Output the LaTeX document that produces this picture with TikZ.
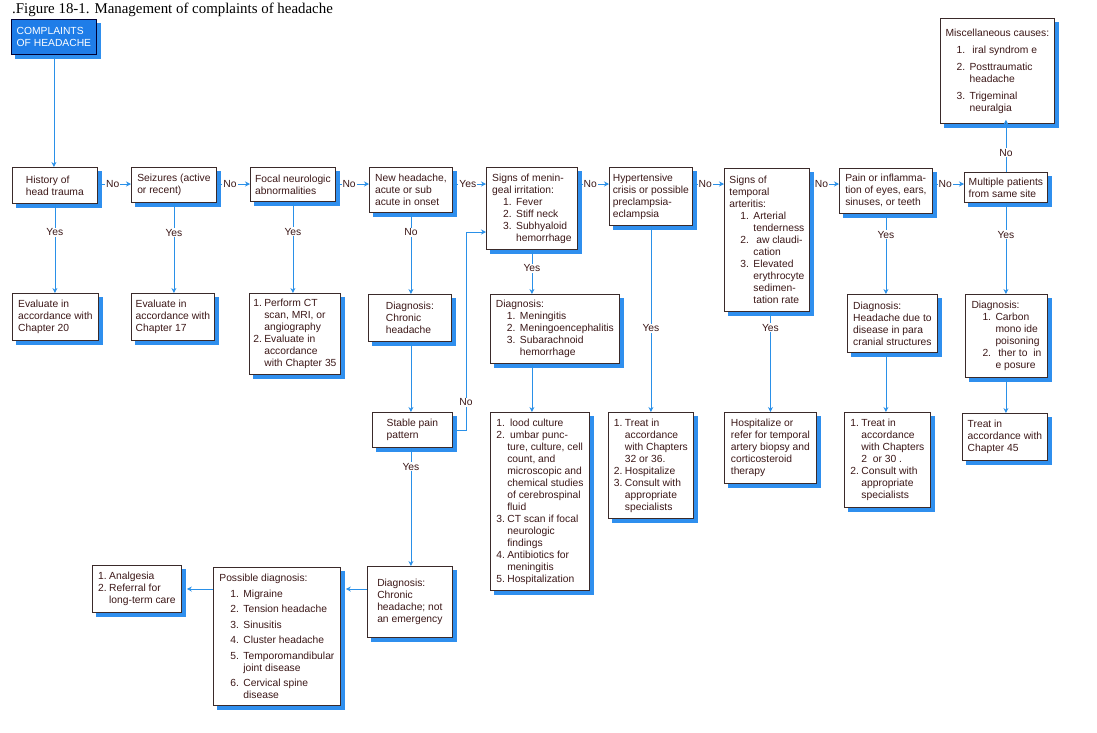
\documentclass[tikz,border=0pt]{standalone}
\usepackage{fontspec}
\setmainfont{Liberation Sans}
\newfontfamily\titlefont{Liberation Serif}
\usetikzlibrary{arrows.meta}
\pgfdeclarelayer{bg}
\pgfsetlayers{bg,main}
\definecolor{lineblue}{HTML}{2A90E8}
\definecolor{shblue}{HTML}{2F8FEE}
\definecolor{boxline}{HTML}{3A2A2A}
\definecolor{txt}{HTML}{3C1818}
\definecolor{compblue}{HTML}{1F7DE8}
\newcommand{\HLi}[1]{\hspace*{11pt}\makebox[13pt][l]{#1}}
\newcommand{\HLc}{\hspace*{24pt}}
\newcommand{\HLn}[1]{\makebox[11pt][l]{#1}}
\newcommand{\HLm}{\hspace*{11pt}}
\tikzset{
  box/.style={draw=boxline, line width=0.8pt, fill=white, text=txt, align=left,
    inner sep=3pt, anchor=north west,
    font=\fontsize{10.3}{12}\selectfont},
  sz/.style 2 args={minimum width=#1pt, minimum height=#2pt},
  arr/.style={draw=lineblue, line width=0.8pt, -{Stealth[length=5pt,width=5pt]}},
  lbl/.style={fill=white, text=txt, inner sep=1pt, font=\fontsize{10.3}{12}\selectfont},
  shadowbox/.style={fill=shblue}
}
\begin{document}
\begin{tikzpicture}[x=1pt,y=-1pt]
\begin{pgfonlayer}{bg}
\fill[white] (0,0) rectangle (1097,732);
\end{pgfonlayer}
\useasboundingbox (0,0) rectangle (1097,732);
\node[anchor=base west, inner sep=0pt, font=\titlefont\fontsize{14.9}{17}\selectfont] (title) at (12,13) {.Figure 18-1. Management of complaints of headache};

% row 1
\node[box, sz={85}{35}, fill=compblue, text=white, draw=black!80!blue] (comp) at (11,19) {COMPLAINTS\\OF HEADACHE};
\node[box, sz={85}{36}] (hist) at (12,167) {History of\\head trauma};
\node[box, sz={85}{35}] (seiz) at (131,167) {Seizures (active\\or recent)};
\node[box, sz={85}{34}] (focal) at (250,167) {Focal neurologic\\abnormalities};
\node[box, sz={83}{45}] (newh) at (369,167) {New headache,\\acute or sub\\acute in onset};
\node[box, sz={91}{82}] (signs) at (486,167) {Signs of menin-\\geal irritation:\\\HLi{1.}Fever\\\HLi{2.}Stiff neck\\\HLi{3.}Subhyaloid\\\HLc hemorrhage};
\node[box, sz={83}{58}] (hyper) at (609,167) {Hypertensive\\crisis or possible\\preclampsia-\\eclampsia};
\node[box, sz={85}{143}] (temp) at (724,168) {Signs of\\temporal\\arteritis:\\\HLi{1.}Arterial\\\HLc tenderness\\\HLi{2.}\ aw claudi-\\\HLc cation\\\HLi{3.}Elevated\\\HLc erythrocyte\\\HLc sedimen-\\\HLc tation rate};
\node[box, sz={93}{45}] (pain) at (839,168) {Pain or inflamma-\\tion of eyes, ears,\\sinuses, or teeth};
\node[box, sz={83}{30}] (mult) at (964,172) {Multiple patients\\from same site};
\node[box, sz={114}{105}] (misc) at (940,18) {Miscellaneous causes:\\[5pt]\HLi{1.}\ iral syndrom e\\[5pt]\HLi{2.}Posttraumatic\\\HLc headache\\[5pt]\HLi{3.}Trigeminal\\\HLc neuralgia};

% row 2
\node[box, sz={86}{47}] (ev20) at (12,293) {Evaluate in\\accordance with\\Chapter 20};
\node[box, sz={83}{47}] (ev17) at (131,293) {Evaluate in\\accordance with\\Chapter 17};
\node[box, sz={91}{81}] (ct) at (249,293) {\HLn{1.}Perform CT\\\HLm scan, MRI, or\\\HLm angiography\\\HLn{2.}Evaluate in\\\HLm accordance\\\HLm with Chapter 35};
\node[box, sz={83}{47}] (dchr) at (368,294) {Diagnosis:\\Chronic\\headache};
\node[box, sz={129}{69}] (dmen) at (490,294) {Diagnosis:\\\HLi{1.}Meningitis\\\HLi{2.}Meningoencephalitis\\\HLi{3.}Subarachnoid\\\HLc hemorrhage};
\node[box, sz={90}{58}] (dhead) at (847,294) {Diagnosis:\\Headache due to\\disease in para\\cranial structures};
\node[box, sz={82}{83}] (dcarb) at (965,294) {Diagnosis:\\\HLi{1.}Carbon\\\HLc mono ide\\\HLc poisoning\\\HLi{2.}\ ther to\ \ in\\\HLc e posure};

% row 3
\node[box, sz={80}{35}] (stab) at (372,412) {Stable pain\\pattern};
\node[box, sz={99}{178}] (blood) at (490,412) {\HLn{1.}\ lood culture\\\HLn{2.}\ umbar punc-\\\HLm ture, culture, cell\\\HLm count, and\\\HLm microscopic and\\\HLm chemical studies\\\HLm of cerebrospinal\\\HLm fluid\\\HLn{3.}CT scan if focal\\\HLm neurologic\\\HLm findings\\\HLn{4.}Antibiotics for\\\HLm meningitis\\\HLn{5.}Hospitalization};
\node[box, sz={85}{106}] (tr36) at (608,412) {\HLn{1.}Treat in\\\HLm accordance\\\HLm with Chapters\\\HLm 32 or 36.\\\HLn{2.}Hospitalize\\\HLn{3.}Consult with\\\HLm appropriate\\\HLm specialists};
\node[box, sz={92}{71}] (hosp) at (724,412) {Hospitalize or\\refer for temporal\\artery biopsy and\\corticosteroid\\therapy};
\node[box, sz={86}{95}] (tr30) at (844,412) {\HLn{1.}Treat in\\\HLm accordance\\\HLm with Chapters\\\HLm 2\ \ or 30 .\\\HLn{2.}Consult with\\\HLm appropriate\\\HLm specialists};
\node[box, sz={85}{47}] (tr45) at (962,413) {Treat in\\accordance with\\Chapter 45};

% row 4
\node[box, sz={85}{71}] (dnot) at (367,566) {Diagnosis:\\Chronic\\headache; not\\an emergency};
\node[box, sz={127}{138}] (poss) at (213,567) {Possible diagnosis:\\[3.5pt]\HLi{1.}Migraine\\[3.5pt]\HLi{2.}Tension headache\\[3.5pt]\HLi{3.}Sinusitis\\[3.5pt]\HLi{4.}Cluster headache\\[3.5pt]\HLi{5.}Temporomandibular\\\HLc joint disease\\[3.5pt]\HLi{6.}Cervical spine\\\HLc disease};
\node[box, sz={89}{47}] (analg) at (92,565) {\HLn{1.}Analgesia\\\HLn{2.}Referral for\\\HLm long-term care};

% shadows
\begin{pgfonlayer}{bg}
\foreach \n in {comp,hist,seiz,focal,newh,signs,hyper,temp,pain,mult,misc,ev20,ev17,ct,dchr,dmen,dhead,dcarb,stab,blood,tr36,hosp,tr30,tr45,dnot,poss,analg}
  \fill[shadowbox] ([shift={(4,4)}]\n.north west) rectangle ([shift={(4,4)}]\n.south east);
\end{pgfonlayer}

% connectors
\coordinate (rowy) at (0,184);
\coordinate (lowy) at (0,589);
\coordinate (bend) at (466,232);
\draw[arr] (comp.south) -- (hist.north -| comp.south);
\draw[arr] (hist.east |- rowy) -- node[lbl,pos=.45]{No} (seiz.west |- rowy);
\draw[arr] (seiz.east |- rowy) -- node[lbl,pos=.4]{No} (focal.west |- rowy);
\draw[arr] (focal.east |- rowy) -- node[lbl,pos=.4]{No} (newh.west |- rowy);
\draw[arr] (newh.east |- rowy) -- node[lbl,pos=.45]{Yes} (signs.west |- rowy);
\draw[arr] (signs.east |- rowy) -- node[lbl,pos=.4]{No} (hyper.west |- rowy);
\draw[arr] (hyper.east |- rowy) -- node[lbl,pos=.4]{No} (temp.west |- rowy);
\draw[arr] (temp.east |- rowy) -- node[lbl,pos=.4]{No} (pain.west |- rowy);
\draw[arr] (pain.east |- rowy) -- node[lbl,pos=.4]{No} (mult.west |- rowy);
\draw[arr] (mult.north) -- node[lbl,pos=.37]{No} ([yshift=4pt]misc.south -| mult.north);

\draw[arr] (hist.south) -- node[lbl,pos=.32]{Yes} (ev20.north -| hist.south);
\draw[arr] (seiz.south) -- node[lbl,pos=.33]{Yes} (ev17.north -| seiz.south);
\draw[arr] (focal.south) -- node[lbl,pos=.33]{Yes} (ct.north -| focal.south);
\draw[arr] (newh.south) -- node[lbl,pos=.24]{No} (dchr.north -| newh.south);
\draw[arr] (dchr.south -| newh.south) -- (stab.north -| newh.south);
\draw[arr] (stab.south -| newh.south) -- node[lbl,pos=.16]{Yes} (dnot.north -| newh.south);
\draw[arr] (stab.east) -| node[lbl,pos=.57]{No} (bend) -- (signs.west |- bend);
\draw[arr] (signs.south) -- node[lbl,pos=.42]{Yes} (dmen.north -| signs.south);
\draw[arr] (dmen.south -| signs.south) -- (blood.north -| signs.south);
\draw[arr] (hyper.south) -- node[lbl,pos=.55]{Yes} (tr36.north -| hyper.south);
\draw[arr] (temp.south -| hosp.north) -- node[lbl,pos=.16]{Yes} (hosp.north);
\draw[arr] (pain.south) -- node[lbl,pos=.26]{Yes} (dhead.north -| pain.south);
\draw[arr] (dhead.south -| pain.south) -- (tr30.north -| pain.south);
\draw[arr] (mult.south) -- node[lbl,pos=.35]{Yes} (dcarb.north -| mult.south);
\draw[arr] (dcarb.south -| mult.south) -- (tr45.north -| mult.south);
\draw[arr] (dnot.west |- lowy) -- ([xshift=5pt]poss.east |- lowy);
\draw[arr] (poss.west |- lowy) -- ([xshift=5pt]analg.east |- lowy);
\end{tikzpicture}
\end{document}
